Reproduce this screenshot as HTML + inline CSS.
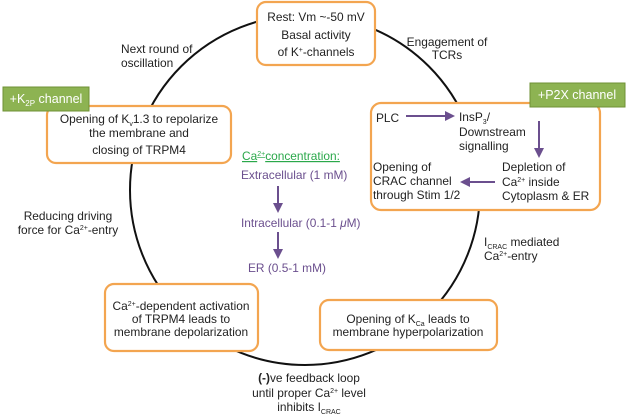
<!DOCTYPE html>
<html><head><meta charset="utf-8"><style>
html,body{margin:0;padding:0;background:#fff;}
svg{display:block;font-family:"Liberation Sans",sans-serif;}
text{font-size:11.9px;fill:#222;}
.p{fill:#6b4f8e;}
.c{text-anchor:middle;}
</style></head><body>
<svg width="627" height="414" viewBox="0 0 627 414" xmlns="http://www.w3.org/2000/svg">
<defs>
<marker id="ah" viewBox="0 0 10 10" refX="8" refY="5" markerWidth="5" markerHeight="5" orient="auto"><path d="M0,0 L10,5 L0,10 z" fill="#6b4f8e"/></marker>
</defs>
<circle cx="305" cy="190" r="175" fill="none" stroke="#111" stroke-width="2"/>

<g fill="#fff" stroke="#f3a550" stroke-width="2.2">
<rect x="257" y="2" width="118" height="63" rx="9"/>
<rect x="47" y="106" width="184" height="57" rx="9"/>
<rect x="371" y="103" width="229" height="107" rx="10"/>
<rect x="105" y="284" width="153" height="67" rx="9"/>
<rect x="320" y="300" width="177" height="50" rx="9"/>
</g>
<rect x="3" y="87" width="86" height="24" fill="#8db352" stroke="#6f9235" stroke-width="1"/>
<text x="46" y="103" class="c" style="fill:#fff;font-size:12.5px">+K<tspan dy="3" font-size="8">2P</tspan><tspan dy="-3"> channel</tspan></text>
<rect x="530" y="83" width="95" height="24" fill="#8db352" stroke="#6f9235" stroke-width="1"/>
<text x="577" y="99" class="c" style="fill:#fff;font-size:12.5px">+P2X channel</text>

<text x="316" y="21" class="c">Rest: Vm ~-50 mV</text>
<text x="316" y="39" class="c">Basal activity</text>
<text x="316" y="56" class="c">of K<tspan dy="-4" font-size="7">+</tspan><tspan dy="4">-channels</tspan></text>

<text x="121" y="53">Next round of</text>
<text x="121" y="67">oscillation</text>
<text x="447" y="46" class="c">Engagement of</text>
<text x="447" y="59" class="c">TCRs</text>

<text x="139" y="123" class="c">Opening of K<tspan dy="3" font-size="7">v</tspan><tspan dy="-3">1.3  to repolarize</tspan></text>
<text x="139" y="137" class="c">the membrane and</text>
<text x="139" y="154" class="c">closing of TRPM4</text>

<text x="242" y="160" style="fill:#2aa84a;text-decoration:underline">Ca<tspan dy="-4" font-size="7">2+</tspan><tspan dy="4">concentration:</tspan></text>
<text x="241" y="179" class="p">Extracellular (1 mM)</text>
<line x1="278" y1="186" x2="278" y2="211" stroke="#6b4f8e" stroke-width="2" marker-end="url(#ah)"/>
<text x="241" y="227" class="p">Intracellular (0.1-1 <tspan font-style="italic">μ</tspan>M)</text>
<line x1="278" y1="232" x2="278" y2="257" stroke="#6b4f8e" stroke-width="2" marker-end="url(#ah)"/>
<text x="248" y="272" class="p">ER (0.5-1 mM)</text>

<text x="376" y="122">PLC</text>
<line x1="406" y1="116" x2="453" y2="116" stroke="#6b4f8e" stroke-width="2" marker-end="url(#ah)"/>
<text x="459" y="121">InsP<tspan dy="3" font-size="7">3</tspan><tspan dy="-3">/</tspan></text>
<text x="459" y="136">Downstream</text>
<text x="459" y="150">signalling</text>
<line x1="539" y1="121" x2="539" y2="156" stroke="#6b4f8e" stroke-width="2" marker-end="url(#ah)"/>
<text x="502" y="171">Depletion of</text>
<text x="502" y="186">Ca<tspan dy="-4" font-size="7">2+</tspan><tspan dy="4"> inside</tspan></text>
<text x="502" y="200">Cytoplasm &amp; ER</text>
<line x1="495" y1="182" x2="462" y2="182" stroke="#6b4f8e" stroke-width="2" marker-end="url(#ah)"/>
<text x="373" y="171">Opening of</text>
<text x="373" y="185">CRAC channel</text>
<text x="373" y="199">through Stim 1/2</text>

<text x="68" y="220" class="c">Reducing driving</text>
<text x="68" y="234" class="c">force for Ca<tspan dy="-4" font-size="7">2+</tspan><tspan dy="4">-entry</tspan></text>

<text x="484" y="246">I<tspan dy="3" font-size="7">CRAC</tspan><tspan dy="-3"> mediated</tspan></text>
<text x="484" y="260">Ca<tspan dy="-4" font-size="7">2+</tspan><tspan dy="4">-entry</tspan></text>

<text x="181" y="310" class="c">Ca<tspan dy="-4" font-size="7">2+</tspan><tspan dy="4">-dependent activation</tspan></text>
<text x="181" y="323" class="c">of TRPM4 leads to</text>
<text x="181" y="336" class="c">membrane  depolarization</text>

<text x="408" y="323" class="c">Opening of K<tspan dy="3" font-size="7">Ca</tspan><tspan dy="-3"> leads to</tspan></text>
<text x="408" y="336" class="c">membrane hyperpolarization</text>

<text x="309" y="382" class="c"><tspan font-weight="bold">(-)</tspan>ve feedback loop</text>
<text x="309" y="397" class="c">until proper Ca<tspan dy="-4" font-size="7">2+</tspan><tspan dy="4"> level</tspan></text>
<text x="309" y="411" class="c">inhibits I<tspan dy="3" font-size="7">CRAC</tspan></text>
</svg>
</body></html>
